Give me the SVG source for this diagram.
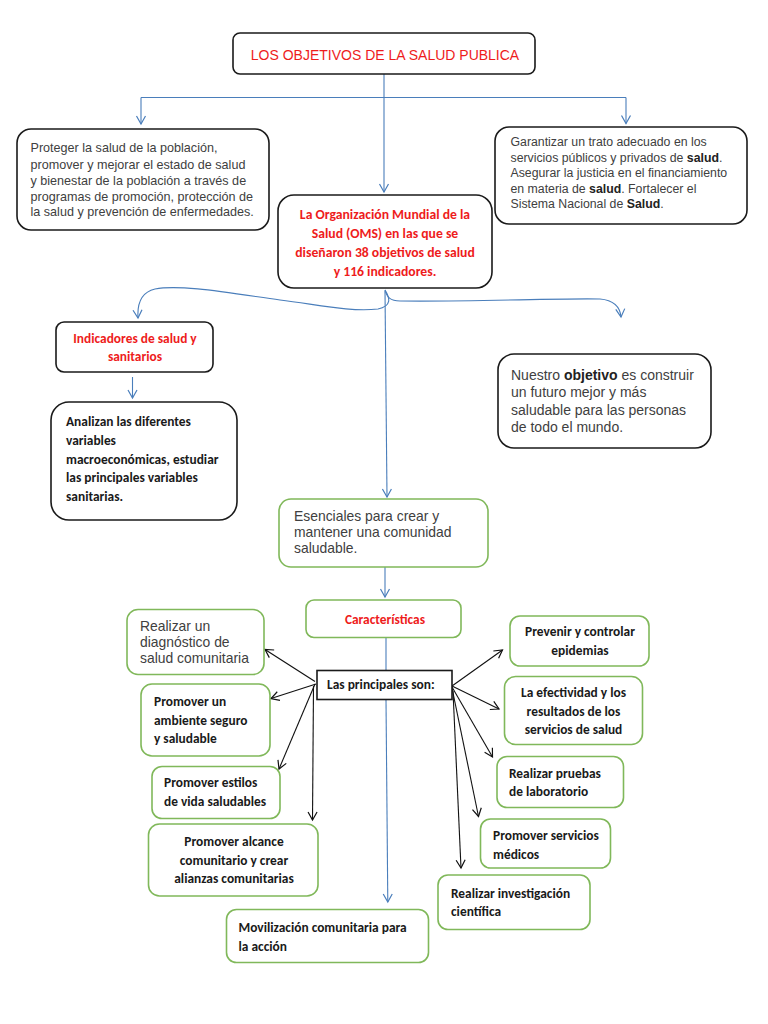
<svg xmlns="http://www.w3.org/2000/svg" width="768" height="1024" viewBox="0 0 768 1024">
<defs>
<marker id="ab" viewBox="0 0 12 12" refX="10" refY="6" markerWidth="12" markerHeight="12" orient="auto" markerUnits="userSpaceOnUse"><path d="M2,1.5 L10,6 L2,10.5" fill="none" stroke="#4a7ebb" stroke-width="1.2"/></marker>
<marker id="ak" viewBox="0 0 12 12" refX="10" refY="6" markerWidth="12" markerHeight="12" orient="auto" markerUnits="userSpaceOnUse"><path d="M2,1.5 L10,6 L2,10.5" fill="none" stroke="#111" stroke-width="1.2"/></marker>
<style>
.bk{fill:#fff;stroke:#1a1a1a;stroke-width:1.6}
.gr{fill:#fff;stroke:#80b85a;stroke-width:1.6}
.blue{fill:none;stroke:#4a7ebb;stroke-width:1.1;marker-end:url(#ab)}
.blk{fill:none;stroke:#111;stroke-width:1.1;marker-end:url(#ak)}
.ar{font-family:"Liberation Sans",Arial,sans-serif;fill:#404040}
.cb{font-family:Carlito,Lato,"Liberation Sans",sans-serif;font-weight:bold;fill:#1a1a1a;font-size:13.4px}
.red{fill:#ee1c1c}
.c{text-anchor:middle}
</style>
</defs>
<g id="connectors">
<path class="blue" d="M384,74 L384,192"/>
<path class="blue" d="M141,97.5 L626,97.5 M141,97.5 L141,124"/>
<path class="blue" d="M626,97.5 L626,123.5"/>
<path class="blue" d="M385,290 C390,298 392,306 378,309 C350,312 320,305 280,300 C230,293 180,284 155,289 C142,292 137,302 138,318"/>
<path class="blue" d="M385,290 C387,297 390,301 400,301 C470,302 560,298 600,299 C612,300 620,306 621,317"/>
<path class="blue" d="M385,291 L387,497"/>
<path class="blue" d="M132.5,377 L132.5,398"/>
<path class="blue" d="M385,567 L385,597"/>
<path style="fill:none;stroke:#4a7ebb;stroke-width:1.1" d="M386,637.5 L386,670.5"/>
<path class="blue" d="M386,699.5 L387.8,902"/>
<path class="blk" d="M315,681.5 L265,649.5"/>
<path class="blk" d="M316,684 L271,698.5"/>
<path class="blk" d="M315,684 L279,769"/>
<path class="blk" d="M313.5,686 L312.5,820"/>
<path class="blk" d="M452,686 L502.5,650"/>
<path class="blk" d="M452,686 L499,709"/>
<path class="blk" d="M452,687 L492.5,757"/>
<path class="blk" d="M452,688 L478.5,816.5"/>
<path class="blk" d="M453,691 L461,868"/>
</g>
<g id="title">
<rect class="bk" x="233" y="33" width="302" height="41" rx="7"/>
<text class="ar red c" x="385" y="60" font-size="14">LOS OBJETIVOS DE LA SALUD PUBLICA</text>
</g>
<g id="proteger">
<rect class="bk" x="17" y="129" width="252" height="101" rx="14"/>
<text class="ar" font-size="12.6"><tspan x="30.5" y="152">Proteger la salud de la población,</tspan><tspan x="30.5" y="168.5">promover y mejorar el estado de salud</tspan><tspan x="30.5" y="184.5">y bienestar de la población a través de</tspan><tspan x="30.5" y="200.5">programas de promoción, protección de</tspan><tspan x="30.5" y="216">la salud y prevención de enfermedades.</tspan></text>
</g>
<g id="garantizar">
<rect class="bk" x="495" y="127" width="252" height="97" rx="14"/>
<text class="ar" font-size="12.3"><tspan x="510.5" y="146">Garantizar un trato adecuado en los</tspan><tspan x="510.5" y="161.5">servicios públicos y privados de <tspan font-weight="bold" fill="#222">salud</tspan>.</tspan><tspan x="510.5" y="177">Asegurar la justicia en el financiamiento</tspan><tspan x="510.5" y="193">en materia de <tspan font-weight="bold" fill="#222">salud</tspan>. Fortalecer el</tspan><tspan x="510.5" y="208">Sistema Nacional de <tspan font-weight="bold" fill="#222">Salud</tspan>.</tspan></text>
</g>
<g id="oms">
<rect class="bk" x="278" y="195" width="214" height="93" rx="16"/>
<text class="cb red c" style="font-size:13.7px"><tspan x="385" y="219">La Organización Mundial de la</tspan><tspan x="385" y="238">Salud (OMS) en las que se</tspan><tspan x="385" y="257">diseñaron 38 objetivos de salud</tspan><tspan x="385" y="275.5">y 116 indicadores.</tspan></text>
</g>
<g id="indicadores">
<rect class="bk" x="56" y="322" width="157" height="50" rx="8"/>
<text class="cb red c"><tspan x="135" y="343">Indicadores de salud y</tspan><tspan x="135" y="361">sanitarios</tspan></text>
</g>
<g id="analizan">
<rect class="bk" x="51" y="402" width="186" height="118" rx="18"/>
<text class="cb"><tspan x="66" y="426">Analizan las diferentes</tspan><tspan x="66" y="444.5">variables</tspan><tspan x="66" y="463.5">macroeconómicas, estudiar</tspan><tspan x="66" y="482">las principales variables</tspan><tspan x="66" y="500.5">sanitarias.</tspan></text>
</g>
<g id="nuestro">
<rect class="bk" x="498" y="354" width="213" height="94" rx="16"/>
<text class="ar" font-size="14"><tspan x="511" y="379.5">Nuestro <tspan font-weight="bold" fill="#222">objetivo</tspan> es construir</tspan><tspan x="511" y="397">un futuro mejor y más</tspan><tspan x="511" y="414.5">saludable para las personas</tspan><tspan x="511" y="432">de todo el mundo.</tspan></text>
</g>
<g id="esenciales">
<rect class="gr" x="279" y="499" width="209" height="68" rx="12"/>
<text class="ar" font-size="13.9"><tspan x="294" y="520.5">Esenciales para crear y</tspan><tspan x="294" y="537">mantener una comunidad</tspan><tspan x="294" y="553">saludable.</tspan></text>
</g>
<g id="caracteristicas">
<rect class="gr" x="306" y="600" width="155" height="37.5" rx="8"/>
<text class="cb red c" x="385" y="623.5">Características</text>
</g>
<g id="principales">
<rect x="317" y="670.5" width="135" height="29" fill="#fff" stroke="#1a1a1a" stroke-width="1.6"/>
<text class="cb" x="327" y="688.5">Las principales son:</text>
</g>
<g id="diagnostico">
<rect class="gr" x="127" y="609.5" width="137" height="65" rx="11"/>
<text class="ar" font-size="13.9"><tspan x="140" y="630.5">Realizar un</tspan><tspan x="140" y="647">diagnóstico de</tspan><tspan x="140" y="662.5">salud comunitaria</tspan></text>
</g>
<g id="ambiente">
<rect class="gr" x="141" y="684" width="129" height="72" rx="11"/>
<text class="cb"><tspan x="154" y="706">Promover un</tspan><tspan x="154" y="724.5">ambiente seguro</tspan><tspan x="154" y="743">y saludable</tspan></text>
</g>
<g id="estilos">
<rect class="gr" x="152" y="766.5" width="128" height="52" rx="10"/>
<text class="cb"><tspan x="164" y="787">Promover estilos</tspan><tspan x="164" y="806">de vida saludables</tspan></text>
</g>
<g id="alcance">
<rect class="gr" x="148.5" y="824" width="169.5" height="72" rx="11"/>
<text class="cb c"><tspan x="234" y="846">Promover alcance</tspan><tspan x="234" y="864.5">comunitario y crear</tspan><tspan x="234" y="883">alianzas comunitarias</tspan></text>
</g>
<g id="movilizacion">
<rect class="gr" x="226.5" y="909.5" width="202" height="53" rx="10"/>
<text class="cb"><tspan x="238.5" y="932">Movilización comunitaria para</tspan><tspan x="238.5" y="950.5">la acción</tspan></text>
</g>
<g id="prevenir">
<rect class="gr" x="510" y="616" width="139" height="50" rx="10"/>
<text class="cb c"><tspan x="580" y="636">Prevenir y controlar</tspan><tspan x="580" y="654.5">epidemias</tspan></text>
</g>
<g id="efectividad">
<rect class="gr" x="504.5" y="676.5" width="138" height="68" rx="11"/>
<text class="cb c"><tspan x="573.5" y="697">La efectividad y los</tspan><tspan x="573.5" y="715.5">resultados de los</tspan><tspan x="573.5" y="734">servicios de salud</tspan></text>
</g>
<g id="pruebas">
<rect class="gr" x="497" y="756.5" width="126.5" height="51" rx="10"/>
<text class="cb"><tspan x="509" y="777.5">Realizar pruebas</tspan><tspan x="509" y="796">de laboratorio</tspan></text>
</g>
<g id="servicios">
<rect class="gr" x="480.5" y="819" width="130" height="49" rx="10"/>
<text class="cb"><tspan x="493" y="840">Promover servicios</tspan><tspan x="493" y="858.5">médicos</tspan></text>
</g>
<g id="investigacion">
<rect class="gr" x="438" y="875" width="152" height="54.5" rx="10"/>
<text class="cb"><tspan x="451" y="897.5">Realizar investigación</tspan><tspan x="451" y="916">científica</tspan></text>
</g>
</svg>
